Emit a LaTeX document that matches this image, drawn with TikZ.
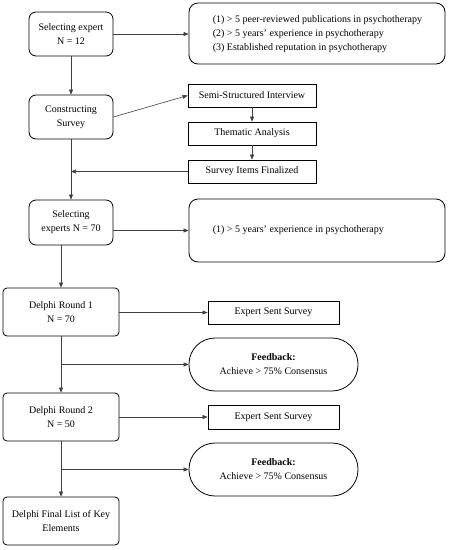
\documentclass[tikz,border=0pt]{standalone}
\usepackage{fontspec}
\setmainfont{Liberation Serif}
\usetikzlibrary{arrows.meta,calc}
\begin{document}
\begin{tikzpicture}[x=1pt,y=-1pt,
  font=\fontsize{10}{14}\selectfont,
  rbox/.style={draw, line width=0.8pt, rounded corners=7pt, align=center, inner sep=1pt},
  crit/.style={draw, line width=0.8pt, rounded corners=9pt, inner sep=0pt, minimum width=256pt},
  crittext/.style={anchor=west, align=left, inner sep=0pt},
  sbox/.style={draw, line width=0.8pt, align=center, inner sep=1pt},
  dbox/.style={draw, line width=0.8pt, rounded corners=4pt, align=center, inner sep=1pt, minimum width=116pt, minimum height=48pt},
  fb/.style={draw, line width=0.8pt, rounded corners=26pt, align=center, minimum width=169pt, minimum height=53pt, inner sep=1pt},
  conn/.style={line width=0.6pt, draw=black!75},
  arr/.style={conn, -{Triangle[length=5pt,width=4pt]}}]
\useasboundingbox (0,0) rectangle (451,550);
\node[rbox, minimum width=84pt, minimum height=44pt] (se) at (71,34) {Selecting expert\\N = 12};
\node[crit, minimum height=61pt] (c1) at (317,33.5) {};
\node[crittext] (c1t) at ([xshift=24pt,yshift=-1pt]c1.west) {(1) > 5 peer-reviewed publications in psychotherapy\\(2) > 5 years’ experience in psychotherapy\\(3) Established reputation in psychotherapy};
\node[rbox, minimum width=84pt, minimum height=44pt] (cs) at (71,117) {Constructing\\Survey};
\node[sbox, minimum width=128pt, minimum height=23pt] (ssi) at (252,95.5) {Semi-Structured Interview};
\node[sbox, minimum width=128pt, minimum height=23pt] (ta) at (252,133.5) {Thematic Analysis};
\node[sbox, minimum width=128pt, minimum height=23pt] (sif) at (252,171.5) {Survey Items Finalized};
\node[rbox, minimum width=84pt, minimum height=45pt] (se70) at (71,222.5) {Selecting\\experts N = 70};
\node[crit, minimum height=63pt] (c2) at (317,230.5) {};
\node[crittext] (c2t) at ([xshift=24pt]c2.west) {(1) > 5 years’ experience in psychotherapy};
\node[dbox] (d1) at (61,312) {Delphi Round 1\\N = 70};
\node[sbox, minimum width=131pt, minimum height=23pt] (ess1) at (273.5,312.5) {Expert Sent Survey};
\node[fb] (fb1) at (273.5,364.5) {\textbf{Feedback:}\\Achieve > 75\% Consensus};
\node[dbox] (d2) at (61,417) {Delphi Round 2\\N = 50};
\node[sbox, minimum width=131pt, minimum height=24pt] (ess2) at (273.5,417) {Expert Sent Survey};
\node[fb] (fb2) at (273.5,469.5) {\textbf{Feedback:}\\Achieve > 75\% Consensus};
\node[dbox] (df) at (61,521) {Delphi Final List of Key\\Elements};
\draw[arr] (se.east) -- (se.east -| c1.west);
\draw[arr] (se.south) -- (cs.north);
\draw[arr] (cs.east) -- (ssi.west);
\draw[arr] (ssi.south) -- (ta.north);
\draw[arr] (ta.south) -- (sif.north);
\draw[arr] (cs.south) -- (se70.north);
\draw[arr] (sif.west) -- (sif.west -| cs.south);
\draw[arr] (se70.east |- c2.west) -- (c2.west);
\draw[arr] (d1.north |- se70.south) -- (d1.north);
\draw[arr] (d1.east |- ess1.west) -- (ess1.west);
\draw[arr] (d1.south) -- (d2.north);
\coordinate (b1) at (d1.south |- fb1.west);
\draw[arr] (b1) -- (fb1.west);
\draw[arr] (d2.east |- ess2.west) -- (ess2.west);
\draw[arr] (d2.south) -- (df.north);
\coordinate (b2) at (d2.south |- fb2.west);
\draw[arr] (b2) -- (fb2.west);
\end{tikzpicture}
\end{document}
